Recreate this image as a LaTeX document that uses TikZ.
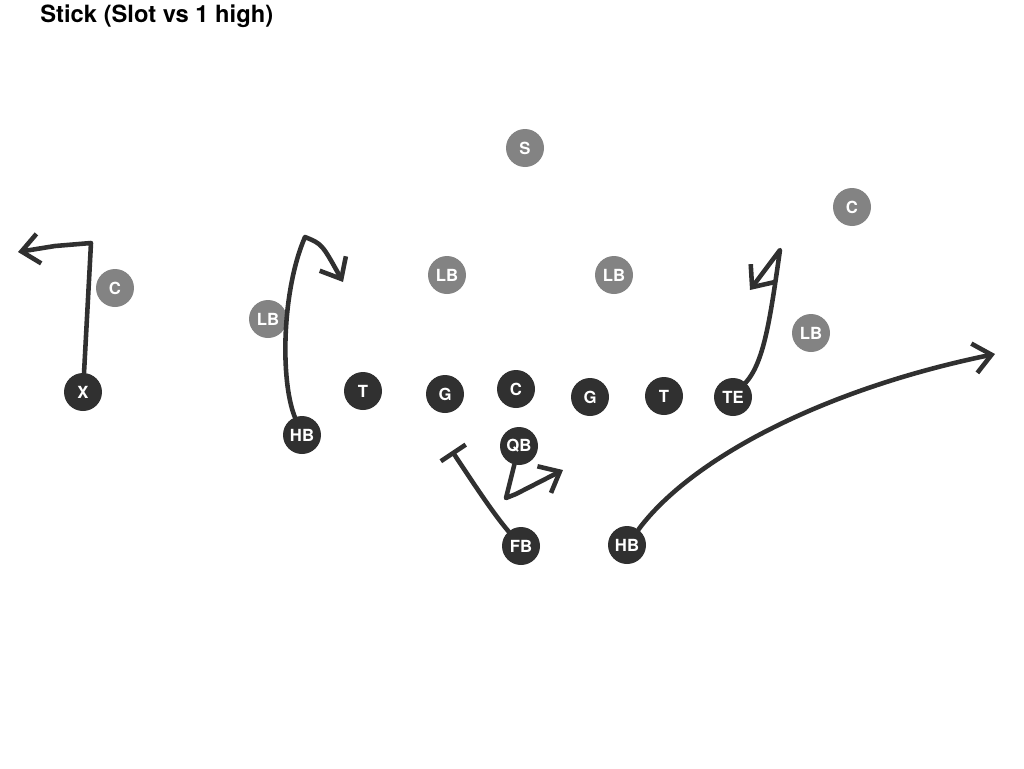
\documentclass[tikz,border=0pt]{standalone}
\usepackage{fontspec}
\setsansfont{TeX Gyre Heros}
\usepackage{tikz}
\usetikzlibrary{arrows.meta,positioning,calc}
\definecolor{offense}{HTML}{303030}
\definecolor{defense}{HTML}{838383}

\begin{document}
\begin{tikzpicture}[x=0.02cm,y=-0.02cm,
    >={Straight Barb[length=10pt,width=17pt]},
    main node/.style={circle,inner sep=0pt,minimum size=0.76cm,text=white,
    font=\sffamily\bfseries\fontsize{9.5}{10}\selectfont},
    offense node/.style={main node,fill=offense},
    defense node/.style={main node,fill=defense},
    route/.style={draw=offense,line width=2.6pt,line cap=round,line join=round}]

    \useasboundingbox (0,0) rectangle (1024,768);

    \node[anchor=west,inner sep=0pt,font=\sffamily\bfseries\fontsize{13.5}{15}\selectfont] (Title) at (40,16) {Stick (Slot vs 1 high)};

    \node[defense node] (Safety) at (525,148) {S};
    \node[defense node] (CornerRight) at (852,207) {C};
    \node[defense node] (CornerLeft) at (115,288) {C};
    \node[defense node] (LinebackerA) at (447,275) {LB};
    \node[defense node] (LinebackerB) at (614,275) {LB};
    \node[defense node] (LinebackerC) at (268,319) {LB};
    \node[defense node] (LinebackerD) at (811,333) {LB};

    \node[offense node] (Receiver) at (83,392) {X};
    \node[offense node] (HalfbackLeft) at (302,435) {HB};
    \node[offense node] (TackleLeft) at (363,391) {T};
    \node[offense node] (GuardLeft) at (445,394) {G};
    \node[offense node] (Center) at (516,389) {C};
    \node[offense node] (GuardRight) at (590,397) {G};
    \node[offense node] (TackleRight) at (664,396) {T};
    \node[offense node] (TightEnd) at (733,397) {TE};
    \node[offense node] (Quarterback) at (519,446) {QB};
    \node[offense node] (Fullback) at (521,546) {FB};
    \node[offense node] (HalfbackRight) at (627,545) {HB};

    \coordinate (ReceiverEnd) at (18,252);
    \coordinate (HalfbackLeftEnd) at (343,282);
    \coordinate (TightEndEnd) at (750,290);
    \coordinate (QuarterbackEnd) at (563,470);
    \coordinate (FullbackEnd) at (452,451);
    \coordinate (HalfbackRightEnd) at (995,354);

    \draw [route,->] (Receiver) -- (91,243) -- (55,246) -- (ReceiverEnd);
    \draw [route,->] (HalfbackLeft) .. controls (280,380) and (282,290) .. (305,237)
        .. controls (322,244) .. (HalfbackLeftEnd);
    \draw [route,->] (TightEnd) .. controls (764,362) and (770,320) .. (780,250) -- (TightEndEnd);
    \draw [route,->] (Quarterback) -- (506,498) -- (516,494) -- (QuarterbackEnd);
    \draw [route,-{Bar[width=17pt]}] (Fullback) .. controls (492,512) and (470,478) .. (FullbackEnd);
    \draw [route,->] (HalfbackRight) .. controls (690,460) and (820,390) .. (HalfbackRightEnd);
\end{tikzpicture}
\end{document}
